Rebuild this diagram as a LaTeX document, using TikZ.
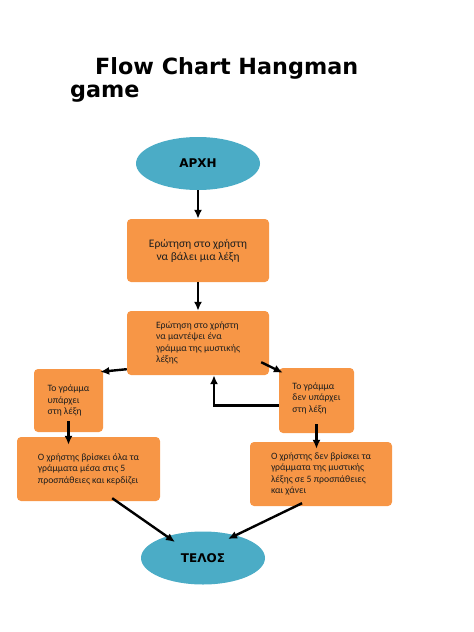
\documentclass[tikz,border=0pt]{standalone}
\usepackage{fontspec}
\newfontfamily\headfont{DejaVu Sans}
\newfontfamily\boxfont{Carlito}
\usetikzlibrary{arrows.meta,shapes.geometric,calc}
\definecolor{ovalblue}{RGB}{75,172,198}
\definecolor{boxorange}{RGB}{247,150,70}
\definecolor{boxtext}{RGB}{30,30,30}

\begin{document}
\begin{tikzpicture}[x=1pt,y=-1pt,
    oval/.style={ellipse, fill=ovalblue, minimum width=124pt, minimum height=53pt,
                 inner sep=0pt, font=\headfont\bfseries\fontsize{12}{14}\selectfont},
    stepbox/.style={rectangle, rounded corners=4pt, fill=boxorange, inner sep=0pt,
                    align=left, text=boxtext, font=\boxfont\fontsize{9.7}{11.5}\selectfont},
    arr/.style={-{Latex[length=9pt,width=8pt]}, line width=2.4pt}]
  \useasboundingbox (0,0) rectangle (474,632);
  % Title
  \node[anchor=base west, inner sep=0pt, font=\headfont\bfseries\fontsize{22.3}{23}\selectfont]
    (title) at (95,74) {Flow Chart Hangman};
  \node[anchor=base west, inner sep=0pt, font=\headfont\bfseries\fontsize{22.3}{23}\selectfont]
    (titlegame) at (70,97) {game};
  % Start and end
  \node[oval] (start) at (198,163.5) {ΑΡΧΗ};
  \node[oval] (end) at (203,558) {ΤΕΛΟΣ};
  % Steps
  \node[stepbox, minimum width=142pt, minimum height=63pt, align=center,
        font=\boxfont\fontsize{11.5}{13}\selectfont] (ask) at (198,250.5)
    {Ερώτηση στο χρήστη\\να βάλει μια λέξη};
  \node[stepbox, minimum width=142pt, minimum height=64pt] (guess) at (198,343)
    {Ερώτηση στο χρήστη\\να μαντέψει ένα\\γράμμα της μυστικής\\λέξης};
  \node[stepbox, minimum width=69pt, minimum height=63pt] (yes) at (68.5,400.5)
    {Το γράμμα\\υπάρχει\\στη λέξη};
  \node[stepbox, minimum width=75pt, minimum height=65pt, text depth=6pt] (no) at (316.5,400.5)
    {Το γράμμα\\δεν υπάρχει\\στη λέξη};
  \node[stepbox, minimum width=143pt, minimum height=64pt] (win) at (88.5,469)
    {Ο χρήστης βρίσκει όλα τα\\γράμματα μέσα στις 5\\προσπάθειες και κερδίζει};
  \node[stepbox, minimum width=142pt, minimum height=64pt] (lose) at (321,474)
    {Ο χρήστης δεν βρίσκει τα\\γράμματα της μυστικής\\λέξης σε 5 προσπάθειες\\και χάνει};
  % Arrows
  \draw[arr] (start.south) -- (ask.north);
  \draw[arr] (ask.south) -- (guess.north);
  \draw[arr] ([yshift=6pt]guess.south west) -- ([xshift=-3pt,yshift=-3pt]yes.north east);
  \draw[arr] ([xshift=-8pt,yshift=13pt]guess.south east) -- ([xshift=4pt,yshift=-5pt]no.north west);
  \draw[arr] ([yshift=-5pt]no.west) -| ([xshift=16pt]guess.south);
  \draw[arr, shorten <=-11pt, shorten >=-8pt] (yes.south) -- (yes.south |- win.north);
  \draw[arr, shorten <=-9pt, shorten >=-7pt] (no.south) -- (no.south |- lose.north);
  \draw[arr] ([xshift=-48pt,yshift=3pt]win.south east) -- ([xshift=-28pt,yshift=16pt]end.center);
  \draw[arr] ([xshift=-19pt,yshift=3pt]lose.south) -- ([xshift=25pt,yshift=19pt]end.center);
\end{tikzpicture}
\end{document}
